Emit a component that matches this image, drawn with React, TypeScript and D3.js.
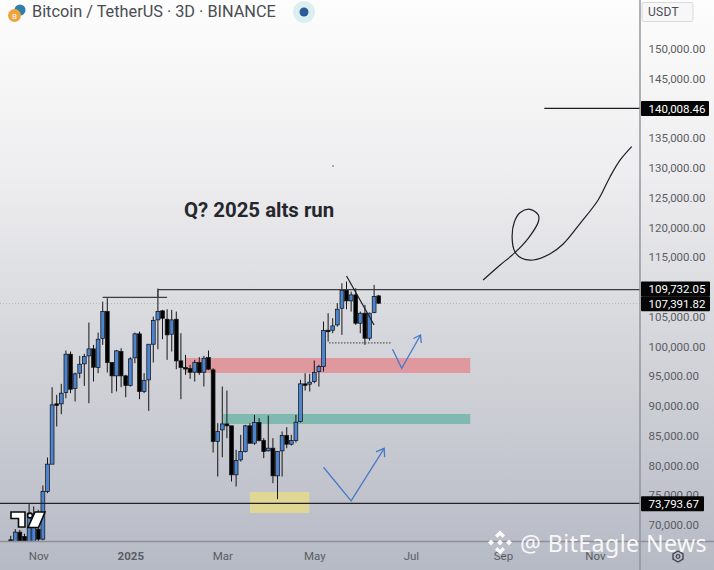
import * as React from 'react'
import { useEffect, useRef } from 'react'
import * as d3 from 'd3'

const width = 714
const height = 570

// 3D candles
const opens = [67512, 67232, 68800, 68072, 66952, 66952, 69304, 67624, 75632, 80224, 90360, 90360, 92264, 98704, 92936, 95512, 97080, 98424, 99600, 96464, 101336, 105872, 97304, 95064, 99152, 95064, 93440, 98088, 102120, 92432, 94392, 100384, 104472, 105984, 104584, 102064, 104584, 97584, 96464, 96296, 95680, 97304, 95680, 98144, 96072, 84032, 85992, 86984, 86664, 78432, 80952, 82352, 86664, 83752, 87224, 84200, 82464, 82912, 78264, 82464, 85040, 83584, 84200, 87392, 93720, 93664, 94112, 95792, 96632, 102736, 102736, 103632, 106432, 109512, 107664, 108672, 103912, 105592, 101392, 105704, 108504]
const highs = [68184, 69304, 69192, 68520, 73560, 73112, 72552, 76640, 81344, 93160, 91872, 93720, 99320, 99152, 95624, 98424, 98760, 104024, 100272, 102344, 107552, 108112, 97304, 99432, 99712, 95232, 98200, 102344, 102512, 95512, 100384, 105032, 109512, 106152, 106264, 106152, 105872, 102232, 98592, 96912, 97752, 98200, 98424, 99320, 96352, 87112, 93272, 92600, 86664, 82632, 85152, 86832, 87112, 88512, 87952, 84592, 88400, 84592, 82352, 85712, 86440, 85152, 88512, 94392, 95512, 95400, 97640, 96912, 104192, 105592, 104752, 107272, 110632, 110912, 109232, 109792, 105872, 106992, 105704, 110352, 108672]
const lows = [66952, 66952, 66952, 66500, 66500, 66500, 67232, 67400, 75352, 80224, 86552, 88624, 91312, 92152, 90752, 94672, 93384, 90472, 94112, 95512, 100272, 95624, 92152, 92432, 93160, 91480, 93272, 97192, 91144, 92152, 89184, 97304, 99544, 101224, 97752, 99152, 96184, 91144, 95232, 94560, 94112, 95232, 93272, 96072, 82184, 78152, 81400, 84592, 77312, 76472, 80672, 82184, 83640, 83472, 84032, 81232, 82352, 77032, 74344, 78152, 82912, 83360, 83864, 87224, 92600, 92432, 93832, 93272, 95792, 100832, 102232, 103352, 101952, 106264, 105872, 103632, 102232, 100272, 101000, 105592, 107160]
const closes = [67232, 68800, 67232, 66952, 71992, 70872, 67624, 75632, 80224, 90192, 90248, 92152, 98704, 92824, 95400, 97024, 98312, 99600, 96520, 101224, 105872, 97304, 95064, 99264, 95064, 93440, 97920, 102120, 92432, 94280, 100384, 104360, 105872, 104752, 101952, 104472, 97584, 96464, 96296, 95680, 97304, 95624, 98032, 96184, 84032, 85712, 86984, 86664, 78432, 80840, 82352, 86664, 83752, 87224, 84200, 82352, 82912, 78264, 82352, 85040, 83584, 84200, 87280, 93720, 93608, 94000, 95624, 96632, 102680, 102624, 103464, 106264, 109400, 107664, 108672, 103912, 105592, 101392, 105592, 108392, 107272]

const priceTicks = [150000, 145000, 135000, 130000, 125000, 120000, 115000, 105000, 100000, 95000, 90000, 85000, 80000, 75000, 70000]
const timeIndex = [6, 26, 46, 66, 87, 107, 127]
const timeLabels = ['Nov', '2025', 'Mar', 'May', 'Jul', 'Sep', 'Nov']

const level140 = 140008.46
const levelHigh = 109732.05
const levelLast = 107391.82
const levelLow = 73793.67

// scribbles on the chart, as [candle index, price]
const scribble: [number, number][] = [[102.7, 111180], [106.4, 113700], [109.6, 115770], [112.5, 118180], [114.7, 120970], [114.7, 122100], [112.9, 123060], [110.7, 122490], [109.5, 120970], [109, 118450], [109.6, 115930], [111.1, 114820], [113.6, 114540], [117.2, 115550], [120.1, 117230], [123.8, 120700], [127.7, 124620], [130.3, 128540], [132.5, 131350], [135, 133590]]
const bigCheck: [number, number][] = [[68, 79700], [74, 74040], [81.2, 82890]]
const smallCheck: [number, number][] = [[83, 99530], [85, 96340], [89.1, 101930]]
const trendLine: [number, number][] = [[73, 111850], [79, 103620]]
const prevHigh: [number, number][] = [[20, 108250], [34, 108250]]
const dottedLow: [number, number][] = [[69.2, 100600], [82.9, 100600]]

const zones = [
  { from: 38, to: 99.9, top: 98070, bottom: 95550, color: '#e0989f' },
  { from: 46.2, to: 99.9, top: 88660, bottom: 86980, color: '#7fb9b0' },
  { from: 52, to: 64.9, top: 75550, bottom: 72020, color: '#e0d795' },
]

const x = d3.scaleLinear().domain([0, 137.8]).range([10.7, 644.6])
const y = d3.scaleLinear().domain([70000, 150000]).range([525, 49])
const plotRight = 640
const plotBottom = 541.5
// the price lines sit a pixel under the scale in the picture
const lineShift = 1

const fmt = d3.format(',.2f')
const toLine = d3.line<[number, number]>().x(d => x(d[0])).y(d => y(d[1]))
const toCurve = d3.line<[number, number]>().x(d => x(d[0])).y(d => y(d[1])).curve(d3.curveCatmullRom)

const arrowHead = (pts: [number, number][], size: number) => {
  const [a, b] = pts.slice(-2)
  const x2 = x(b[0]), y2 = y(b[1])
  const ang = Math.atan2(y2 - y(a[1]), x2 - x(a[0]))
  const wing = (off: number) => `${x2 - size * Math.cos(ang + off)},${y2 - size * Math.sin(ang + off)}`
  return `M${wing(0.6)}L${x2},${y2}L${wing(-0.6)}`
}

const Tag = ({ price, w, text, dy = 0 }: { price: number, w: number, text: string, dy?: number }) => (
  <g transform={`translate(641, ${y(price) + dy})`}>
    <rect x={0} y={-7.5} width={w} height={15} fill="#050505" rx={1} />
    <text x={7.5} y={4.2} fill="#fff" fontSize={11.5}>{text}</text>
  </g>
)

const App = () => {
  const rightAxis = useRef<SVGGElement | null>(null)
  const bottomAxis = useRef<SVGGElement | null>(null)

  useEffect(() => {
    const ra = d3.select(rightAxis.current!)
    ra.call(d3.axisRight(y).tickValues(priceTicks).tickSize(0).tickPadding(8.5).tickFormat(d => fmt(d as number)) as any)
    ra.select('.domain').remove()
    ra.selectAll('text').attr('font-family', 'Roboto').attr('font-size', 11.5).attr('fill', '#5a5c63')

    const ba = d3.select(bottomAxis.current!)
    ba.call(d3.axisBottom(x).tickValues(timeIndex).tickSize(0).tickPadding(10).tickFormat((d, i) => timeLabels[i]) as any)
    ba.select('.domain').remove()
    ba.selectAll('text').attr('font-family', 'Roboto').attr('font-size', 11.5).attr('fill', '#5a5c63')
      .attr('font-weight', (d, i) => timeLabels[i] === '2025' ? 700 : 400)
  }, [])

  return (
    <svg width={width} height={height} style={{ position: 'absolute', left: 0, top: 0, display: 'block' }} fontFamily="Roboto">
      <defs>
        <linearGradient id="bg" x1="0" y1="0" x2="0" y2="1">
          <stop offset="0" stopColor="#fdfdfd" />
          <stop offset="0.3" stopColor="#eeeef0" />
          <stop offset="0.6" stopColor="#d5d6db" />
          <stop offset="1" stopColor="#b6bac5" />
        </linearGradient>
        <clipPath id="plot"><rect x={0} y={0} width={plotRight} height={plotBottom} /></clipPath>
        <filter id="soft"><feGaussianBlur stdDeviation="0.3" /></filter>
      </defs>
      <rect width={width} height={height} fill="url(#bg)" />

      {/* header */}
      <circle cx={20} cy={10} r={5.5} fill="#2f7fa8" />
      <circle cx={14.5} cy={15.5} r={6.5} fill="#f0a33a" />
      <text x={14.5} y={18.5} fontSize={8} fill="#fff" textAnchor="middle">B</text>
      <text x={32} y={17} fontSize={16.3} fill="#4a4c52">Bitcoin / TetherUS · 3D · BINANCE</text>
      <circle cx={304} cy={12} r={11} fill="#dceff0" />
      <circle cx={304} cy={12} r={4.5} fill="#2c5a94" />

      <g clipPath="url(#plot)">
        {zones.map((z, i) => (
          <rect key={i} x={x(z.from)} width={x(z.to) - x(z.from)} y={y(z.top)} height={y(z.bottom) - y(z.top)} fill={z.color} />
        ))}

        <line x1={0} x2={plotRight} y1={y(levelLast) + lineShift} y2={y(levelLast) + lineShift} stroke="#b4b5ba" strokeWidth={1} strokeDasharray="1 2" />

        <g filter="url(#soft)">
          {opens.map((o, i) => {
            const c = closes[i]
            const up = c >= o
            return (
              <g key={i}>
                <line x1={x(i)} x2={x(i)} y1={y(highs[i])} y2={y(lows[i])} stroke="#17181a" strokeWidth={1} />
                <rect x={x(i) - 1.9} width={3.8} y={y(Math.max(o, c))} height={Math.max(1.5, Math.abs(y(o) - y(c)))}
                  fill={up ? '#4d84d0' : '#050505'} stroke="#0c0d10" strokeWidth={0.7} />
              </g>
            )
          })}
        </g>

        {/* levels */}
        <line x1={0} x2={plotRight} y1={y(levelLow) + lineShift} y2={y(levelLow) + lineShift} stroke="#22232a" strokeWidth={1.3} />
        <line x1={x(32)} x2={plotRight} y1={y(levelHigh) + lineShift} y2={y(levelHigh) + lineShift} stroke="#3c3d44" strokeWidth={1.3} />
        <line x1={x(32)} x2={x(32)} y1={y(levelHigh)} y2={y(108250)} stroke="#3c3d44" strokeWidth={1.2} />
        <line x1={x(116)} x2={plotRight} y1={y(level140)} y2={y(level140)} stroke="#1c1d22" strokeWidth={1.2} />
        <path d={toLine(prevHigh)!} stroke="#3c3d44" strokeWidth={1.2} fill="none" />
        <path d={toLine(trendLine)!} stroke="#1c1d22" strokeWidth={1.2} fill="none" />
        <path d={toLine(dottedLow)!} stroke="#55565c" strokeWidth={1.2} strokeDasharray="1.5 1.5" fill="none" />

        {/* hand drawn */}
        <path d={toCurve(scribble)!} stroke="#1d1e22" strokeWidth={1.2} fill="none" />
        <path d={toLine(bigCheck)!} stroke="#4a78c8" strokeWidth={1.3} fill="none" />
        <path d={arrowHead(bigCheck, 9)} stroke="#4a78c8" strokeWidth={1.3} fill="none" />
        <path d={toLine(smallCheck)!} stroke="#4a78c8" strokeWidth={1.3} fill="none" />
        <path d={arrowHead(smallCheck, 8)} stroke="#4a78c8" strokeWidth={1.3} fill="none" />
        <circle cx={333} cy={166} r={0.7} fill="#333" />

        <text x={184} y={217} fontSize={20.4} fontWeight={700} fill="#26272c">Q? 2025 alts run</text>

        {/* TV logo */}
        <g fill="#fff" stroke="#0a0a0a" strokeWidth={1.6}>
          <path d="M11,512H25V527H18.5V518.5H11Z" />
          <circle cx={30} cy={515.5} r={2.4} />
          <path d="M35,512H45L38.5,527.5H28Z" />
        </g>
      </g>

      {/* frame */}
      <line x1={plotRight} x2={plotRight} y1={0} y2={height} stroke="#8f9199" strokeWidth={1.4} />
      <line x1={0} x2={width} y1={plotBottom} y2={plotBottom} stroke="#8f9199" strokeWidth={1.4} />

      <rect x={642} y={2.5} width={51} height={19} rx={2} fill="#f7f7f8" stroke="#d8d9dc" />
      <text x={648} y={16} fontSize={12} fill="#4a4c52" letterSpacing={0.3}>USDT</text>

      <g ref={rightAxis} transform={`translate(${plotRight}, 0)`} />
      <g ref={bottomAxis} transform={`translate(0, ${plotBottom})`} />

      <Tag price={level140} w={68} text={fmt(level140)} />
      <Tag price={levelHigh} w={69} text={fmt(levelHigh)} dy={0.3} />
      <Tag price={levelLast} w={69} text={fmt(levelLast)} dy={1.3} />
      <Tag price={levelLow} w={63} text={fmt(levelLow)} dy={1.2} />

      {/* gear */}
      <path d="M678,551L683,553.8V559.2L678,562L673,559.2V553.8Z" fill="none" stroke="#44464c" strokeWidth={1.4} />
      <circle cx={678} cy={556.5} r={1.8} fill="none" stroke="#44464c" strokeWidth={1.2} />

      {/* watermark */}
      <g fill="#ffffff" fillOpacity={0.92}>
        <path d="M500,530.5L505,535.5L502.6,537.9L500,535.3L497.4,537.9L495,535.5Z" />
        <path d="M500,554.5L505,549.5L502.6,547.1L500,549.7L497.4,547.1L495,549.5Z" />
        <path d="M500,539.5L503,542.5L500,545.5L497,542.5Z" />
        <path d="M491,539.5L494,542.5L491,545.5L488,542.5Z" />
        <path d="M509,539.5L512,542.5L509,545.5L506,542.5Z" />
        <text x={520} y={552} fontSize={23.2} letterSpacing={0.4} fontFamily="Noto Sans">@ BitEagle News</text>
      </g>
    </svg>
  )
}

export default App
